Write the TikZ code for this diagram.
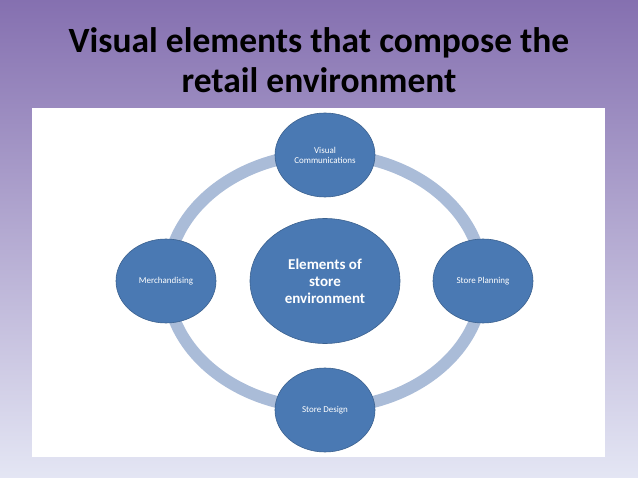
\documentclass[tikz,border=0pt]{standalone}
\usepackage{fontspec}
\setmainfont{Carlito}
\usetikzlibrary{shapes.geometric}
\definecolor{top}{HTML}{8570B0}
\definecolor{bot}{HTML}{E4E6F4}
\definecolor{ball}{HTML}{4A79B3}
\definecolor{ring}{HTML}{AABCD8}
\tikzset{
  ball/.style={ellipse,fill=ball,draw=ball!80!black,line width=0.6pt,inner sep=0pt,text=white,align=center},
  small/.style={ball,minimum width=100pt,minimum height=84pt,font=\fontsize{9}{10}\selectfont}
}
\begin{document}
\begin{tikzpicture}[x=1pt,y=-1pt]
\useasboundingbox (0,0) rectangle (638,478);
\shade[top color=top,bottom color=bot] (0,0) rectangle (638,478);
\node[font=\bfseries\fontsize{35.5}{40}\selectfont,align=center] (title) at (319,60) {Visual elements that compose the\\retail environment};
\fill[white] (32,108) rectangle (605,457);
\draw[ring,line width=12pt] (325,281) ellipse [x radius=158,y radius=127];
\node[ball,minimum width=150pt,minimum height=125pt,font=\bfseries\fontsize{15}{17}\selectfont] (c) at (325,281) {Elements of\\store\\environment};
\node[small] (t) at (325,155) {Visual\\Communications};
\node[small] (l) at (166,281) {Merchandising};
\node[small] (r) at (483,281) {Store Planning};
\node[small] (b) at (325,410) {Store Design};
\end{tikzpicture}
\end{document}
